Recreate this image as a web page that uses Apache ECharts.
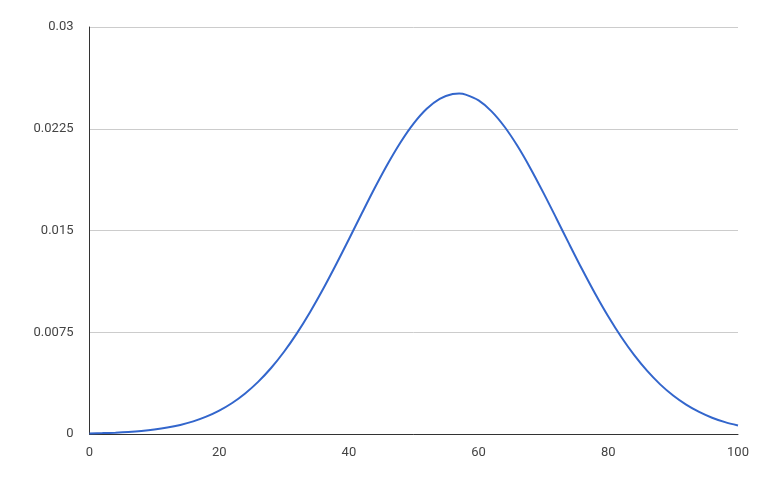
<!DOCTYPE html>
<html>
<head>
<meta charset="utf-8">
<script src="https://cdn.jsdelivr.net/npm/echarts@6/dist/echarts.min.js"></script>
<style>html,body{margin:0;padding:0;background:#fff;}#c{width:784px;height:485px;}</style>
</head>
<body>
<div id="c"></div>
<script>
var xValues = [0,2,4,6,8,10,12,14,16,18,20,22,24,26,28,30,32,34,36,38,40,42,44,46,48,50,52,54,56,57,58,60,62,64,66,68,70,72,74,76,78,80,82,84,86,88,90,92,94,96,98,100];
var yValues = [0.0000425,0.0000661,0.000101,0.000152,0.000226,0.00033,0.000474,0.00067,0.000933,0.001277,0.001724,0.002287,0.002989,0.003844,0.004865,0.006062,0.007435,0.008975,0.010664,0.01247,0.014357,0.016268,0.018148,0.019921,0.021527,0.022897,0.023974,0.024704,0.02506,0.02509,0.025019,0.024588,0.023783,0.022646,0.021224,0.019578,0.017776,0.015887,0.013975,0.012101,0.010315,0.008654,0.007146,0.005809,0.004647,0.003659,0.002835,0.002164,0.001625,0.001201,0.000874,0.000626];
var yTicks = [0, 0.0075, 0.015, 0.0225, 0.03];
var xTicks = [0, 20, 40, 60, 80, 100];

var data = xValues.map(function(x, i){ return [x, yValues[i]]; });
var chart = echarts.init(document.getElementById('c'), null, {renderer:'canvas'});
var labelFont = {color:'#444', fontFamily:'Roboto, Arial, sans-serif', fontSize:13};
chart.setOption({
  animation:false,
  grid:{left:89.5, right:46, top:27, bottom:51, containLabel:false},
  xAxis:{type:'value', min:0, max:100, interval:20,
    axisLine:{show:true, onZero:false, lineStyle:{color:'#333', width:1}},
    axisTick:{show:false},
    splitLine:{show:false},
    axisLabel:Object.assign({margin:12, formatter:function(v){return xTicks.indexOf(v)>=0?String(v):'';}}, labelFont)
  },
  yAxis:{type:'value', min:0, max:0.03, interval:0.0075,
    axisLine:{show:true, lineStyle:{color:'#333', width:1}},
    axisTick:{show:false},
    splitLine:{show:true, lineStyle:{color:'#ccc', width:1}},
    axisLabel:Object.assign({margin:16, formatter:function(v){
      for (var i=0;i<yTicks.length;i++){ if (Math.abs(yTicks[i]-v)<1e-9) return String(yTicks[i]); }
      return '';
    }}, labelFont)
  },
  series:[{type:'line', data:data, smooth:0.3, showSymbol:false,
    lineStyle:{color:'#3366cc', width:2}, itemStyle:{color:'#3366cc'}}]
});
</script>
</body>
</html>
